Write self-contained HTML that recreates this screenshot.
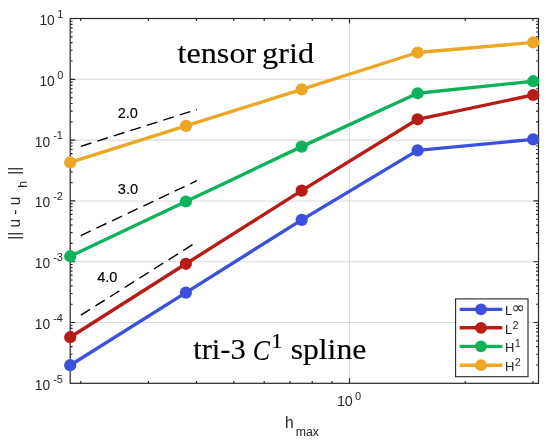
<!DOCTYPE html>
<html lang="en"><head><meta charset="utf-8"><title>convergence plot</title>
<style>html,body{margin:0;padding:0;background:#fff}body{width:550px;height:441px;overflow:hidden}svg{display:block}text{font-family:"Liberation Sans",sans-serif;fill:#262626}.serif{font-family:"Liberation Serif",serif;fill:#000;stroke:#000;stroke-width:0.15px}</style></head><body>
<svg width="550" height="441" viewBox="0 0 550 441">
<rect x="0" y="0" width="550" height="441" fill="#fff"/>
<path d="M70.20 322.50H538.50M70.20 261.70H538.50M70.20 200.90H538.50M70.20 140.10H538.50M70.20 79.30H538.50M349.50 18.50V383.30" stroke="#dcdcdc" stroke-width="1.05" fill="none"/>
<path d="M70.20 365.00h2.4M538.50 365.00h-2.4M70.20 354.29h2.4M538.50 354.29h-2.4M70.20 346.69h2.4M538.50 346.69h-2.4M70.20 340.80h2.4M538.50 340.80h-2.4M70.20 335.99h2.4M538.50 335.99h-2.4M70.20 331.92h2.4M538.50 331.92h-2.4M70.20 328.39h2.4M538.50 328.39h-2.4M70.20 325.28h2.4M538.50 325.28h-2.4M70.20 322.50h5.0M538.50 322.50h-5.0M70.20 304.20h2.4M538.50 304.20h-2.4M70.20 293.49h2.4M538.50 293.49h-2.4M70.20 285.89h2.4M538.50 285.89h-2.4M70.20 280.00h2.4M538.50 280.00h-2.4M70.20 275.19h2.4M538.50 275.19h-2.4M70.20 271.12h2.4M538.50 271.12h-2.4M70.20 267.59h2.4M538.50 267.59h-2.4M70.20 264.48h2.4M538.50 264.48h-2.4M70.20 261.70h5.0M538.50 261.70h-5.0M70.20 243.40h2.4M538.50 243.40h-2.4M70.20 232.69h2.4M538.50 232.69h-2.4M70.20 225.09h2.4M538.50 225.09h-2.4M70.20 219.20h2.4M538.50 219.20h-2.4M70.20 214.39h2.4M538.50 214.39h-2.4M70.20 210.32h2.4M538.50 210.32h-2.4M70.20 206.79h2.4M538.50 206.79h-2.4M70.20 203.68h2.4M538.50 203.68h-2.4M70.20 200.90h5.0M538.50 200.90h-5.0M70.20 182.60h2.4M538.50 182.60h-2.4M70.20 171.89h2.4M538.50 171.89h-2.4M70.20 164.29h2.4M538.50 164.29h-2.4M70.20 158.40h2.4M538.50 158.40h-2.4M70.20 153.59h2.4M538.50 153.59h-2.4M70.20 149.52h2.4M538.50 149.52h-2.4M70.20 145.99h2.4M538.50 145.99h-2.4M70.20 142.88h2.4M538.50 142.88h-2.4M70.20 140.10h5.0M538.50 140.10h-5.0M70.20 121.80h2.4M538.50 121.80h-2.4M70.20 111.09h2.4M538.50 111.09h-2.4M70.20 103.49h2.4M538.50 103.49h-2.4M70.20 97.60h2.4M538.50 97.60h-2.4M70.20 92.79h2.4M538.50 92.79h-2.4M70.20 88.72h2.4M538.50 88.72h-2.4M70.20 85.19h2.4M538.50 85.19h-2.4M70.20 82.08h2.4M538.50 82.08h-2.4M70.20 79.30h5.0M538.50 79.30h-5.0M70.20 61.00h2.4M538.50 61.00h-2.4M70.20 50.29h2.4M538.50 50.29h-2.4M70.20 42.69h2.4M538.50 42.69h-2.4M70.20 36.80h2.4M538.50 36.80h-2.4M70.20 31.99h2.4M538.50 31.99h-2.4M70.20 27.92h2.4M538.50 27.92h-2.4M70.20 24.39h2.4M538.50 24.39h-2.4M70.20 21.28h2.4M538.50 21.28h-2.4M80.75 383.30v-2.4M80.75 18.50v2.4M148.45 383.30v-2.4M148.45 18.50v2.4M196.49 383.30v-2.4M196.49 18.50v2.4M233.75 383.30v-2.4M233.75 18.50v2.4M264.20 383.30v-2.4M264.20 18.50v2.4M289.94 383.30v-2.4M289.94 18.50v2.4M312.24 383.30v-2.4M312.24 18.50v2.4M331.91 383.30v-2.4M331.91 18.50v2.4M465.25 383.30v-2.4M465.25 18.50v2.4M532.95 383.30v-2.4M532.95 18.50v2.4M349.50 383.30v-5.0M349.50 18.50v5.0" stroke="#262626" stroke-width="1.15" fill="none"/>
<rect x="70.2" y="18.5" width="468.30" height="364.80" fill="none" stroke="#262626" stroke-width="1.2"/>
<line x1="80.8" y1="146.3" x2="196.9" y2="109.5" stroke="#000" stroke-width="1.4" stroke-dasharray="11 6.3"/>
<line x1="80.8" y1="235.6" x2="196.9" y2="180.7" stroke="#000" stroke-width="1.4" stroke-dasharray="11 6.3"/>
<line x1="80.8" y1="315.2" x2="196.9" y2="241.9" stroke="#000" stroke-width="1.4" stroke-dasharray="11 6.3"/>
<text x="117.7" y="117.8" font-size="14.6px" style="fill:#000;stroke:#000;stroke-width:0.15px">2.0</text>
<text x="117.8" y="193.7" font-size="14.6px" style="fill:#000;stroke:#000;stroke-width:0.15px">3.0</text>
<text x="97.2" y="281.5" font-size="14.6px" style="fill:#000;stroke:#000;stroke-width:0.15px">4.0</text>
<text class="serif" x="177.5" y="63" font-size="30px" word-spacing="-2" textLength="136.5" lengthAdjust="spacingAndGlyphs">tensor grid</text>
<text class="serif" x="193.2" y="359.4" font-size="29.5px" textLength="52.6" lengthAdjust="spacingAndGlyphs">tri-3</text>
<text class="serif" x="252.7" y="359.5" font-size="30px" font-style="italic" textLength="17.2" lengthAdjust="spacingAndGlyphs">C</text>
<text class="serif" x="271.0" y="348.2" font-size="21.6px" textLength="11.6" lengthAdjust="spacingAndGlyphs">1</text>
<text class="serif" x="290.7" y="359.4" font-size="29.5px" textLength="75.6" lengthAdjust="spacingAndGlyphs">spline</text>
<polyline points="70.2,365.2 185.9,292.6 301.7,219.9 417.6,150.4 533.2,139.4" fill="none" stroke="#3c50dc" stroke-width="3.4" stroke-linejoin="round"/>
<circle cx="70.2" cy="365.2" r="6.1" fill="#3c50dc"/>
<circle cx="185.9" cy="292.6" r="6.1" fill="#3c50dc"/>
<circle cx="301.7" cy="219.9" r="6.1" fill="#3c50dc"/>
<circle cx="417.6" cy="150.4" r="6.1" fill="#3c50dc"/>
<circle cx="533.2" cy="139.4" r="6.1" fill="#3c50dc"/>
<polyline points="70.2,337.2 185.9,263.8 301.7,190.6 417.6,119.3 533.2,95.0" fill="none" stroke="#b71c16" stroke-width="3.4" stroke-linejoin="round"/>
<circle cx="70.2" cy="337.2" r="6.1" fill="#b71c16"/>
<circle cx="185.9" cy="263.8" r="6.1" fill="#b71c16"/>
<circle cx="301.7" cy="190.6" r="6.1" fill="#b71c16"/>
<circle cx="417.6" cy="119.3" r="6.1" fill="#b71c16"/>
<circle cx="533.2" cy="95.0" r="6.1" fill="#b71c16"/>
<polyline points="70.2,256.2 185.9,201.5 301.7,146.6 417.6,93.3 533.2,81.2" fill="none" stroke="#0db35a" stroke-width="3.4" stroke-linejoin="round"/>
<circle cx="70.2" cy="256.2" r="6.1" fill="#0db35a"/>
<circle cx="185.9" cy="201.5" r="6.1" fill="#0db35a"/>
<circle cx="301.7" cy="146.6" r="6.1" fill="#0db35a"/>
<circle cx="417.6" cy="93.3" r="6.1" fill="#0db35a"/>
<circle cx="533.2" cy="81.2" r="6.1" fill="#0db35a"/>
<polyline points="70.2,162.4 185.9,125.9 301.7,89.4 417.6,52.5 533.2,42.4" fill="none" stroke="#eca825" stroke-width="3.4" stroke-linejoin="round"/>
<circle cx="70.2" cy="162.4" r="6.1" fill="#eca825"/>
<circle cx="185.9" cy="125.9" r="6.1" fill="#eca825"/>
<circle cx="301.7" cy="89.4" r="6.1" fill="#eca825"/>
<circle cx="417.6" cy="52.5" r="6.1" fill="#eca825"/>
<circle cx="533.2" cy="42.4" r="6.1" fill="#eca825"/>
<text x="34.8" y="389.7" font-size="14.3px" textLength="15.3" lengthAdjust="spacingAndGlyphs">10</text>
<text x="53.2" y="382.6" font-size="11px">-5</text>
<text x="34.8" y="328.9" font-size="14.3px" textLength="15.3" lengthAdjust="spacingAndGlyphs">10</text>
<text x="53.2" y="321.8" font-size="11px">-4</text>
<text x="34.8" y="268.1" font-size="14.3px" textLength="15.3" lengthAdjust="spacingAndGlyphs">10</text>
<text x="53.2" y="261.0" font-size="11px">-3</text>
<text x="34.8" y="207.3" font-size="14.3px" textLength="15.3" lengthAdjust="spacingAndGlyphs">10</text>
<text x="53.2" y="200.2" font-size="11px">-2</text>
<text x="34.8" y="146.5" font-size="14.3px" textLength="15.3" lengthAdjust="spacingAndGlyphs">10</text>
<text x="53.2" y="139.4" font-size="11px">-1</text>
<text x="39.4" y="85.7" font-size="14.3px" textLength="15.3" lengthAdjust="spacingAndGlyphs">10</text>
<text x="57.2" y="78.6" font-size="11px">0</text>
<text x="39.4" y="24.9" font-size="14.3px" textLength="15.3" lengthAdjust="spacingAndGlyphs">10</text>
<text x="57.2" y="17.8" font-size="11px">1</text>
<text x="336.9" y="406" font-size="14.3px">10</text>
<text x="355.1" y="400.2" font-size="11px">0</text>
<text x="285" y="428.1" font-size="15.6px">h</text>
<text x="295.7" y="435.6" font-size="12.3px">max</text>
<text transform="translate(19.5 239.8) rotate(-90) scale(1 1.07)" font-size="15.4px">|| u - u</text>
<text transform="translate(27.2 187.8) rotate(-90)" font-size="12.3px">h</text>
<text transform="translate(19.5 174.8) rotate(-90) scale(1 1.07)" font-size="15.4px">||</text>
<rect x="455.6" y="298.9" width="72.4" height="77.8" fill="#fff" stroke="#262626" stroke-width="1.1"/>
<line x1="459.7" y1="309.4" x2="502.3" y2="309.4" stroke="#3c50dc" stroke-width="3.4"/>
<circle cx="481" cy="309.4" r="5.9" fill="#3c50dc"/>
<text x="504.9" y="315.2" font-size="13px">L</text>
<text x="511.4" y="312.6" font-size="16px" style="font-family:'DejaVu Sans','Liberation Sans',sans-serif">∞</text>
<line x1="459.7" y1="327.8" x2="502.3" y2="327.8" stroke="#b71c16" stroke-width="3.4"/>
<circle cx="481" cy="327.8" r="5.9" fill="#b71c16"/>
<text x="504.9" y="333.6" font-size="13px">L</text>
<text x="512.6" y="328.5" font-size="10.8px">2</text>
<line x1="459.7" y1="346.4" x2="502.3" y2="346.4" stroke="#0db35a" stroke-width="3.4"/>
<circle cx="481" cy="346.4" r="5.9" fill="#0db35a"/>
<text x="504.9" y="352.2" font-size="13px">H</text>
<text x="514.8" y="347.1" font-size="10.8px">1</text>
<line x1="459.7" y1="365.2" x2="502.3" y2="365.2" stroke="#eca825" stroke-width="3.4"/>
<circle cx="481" cy="365.2" r="5.9" fill="#eca825"/>
<text x="504.9" y="371.0" font-size="13px">H</text>
<text x="514.8" y="365.9" font-size="10.8px">2</text>
</svg></body></html>
